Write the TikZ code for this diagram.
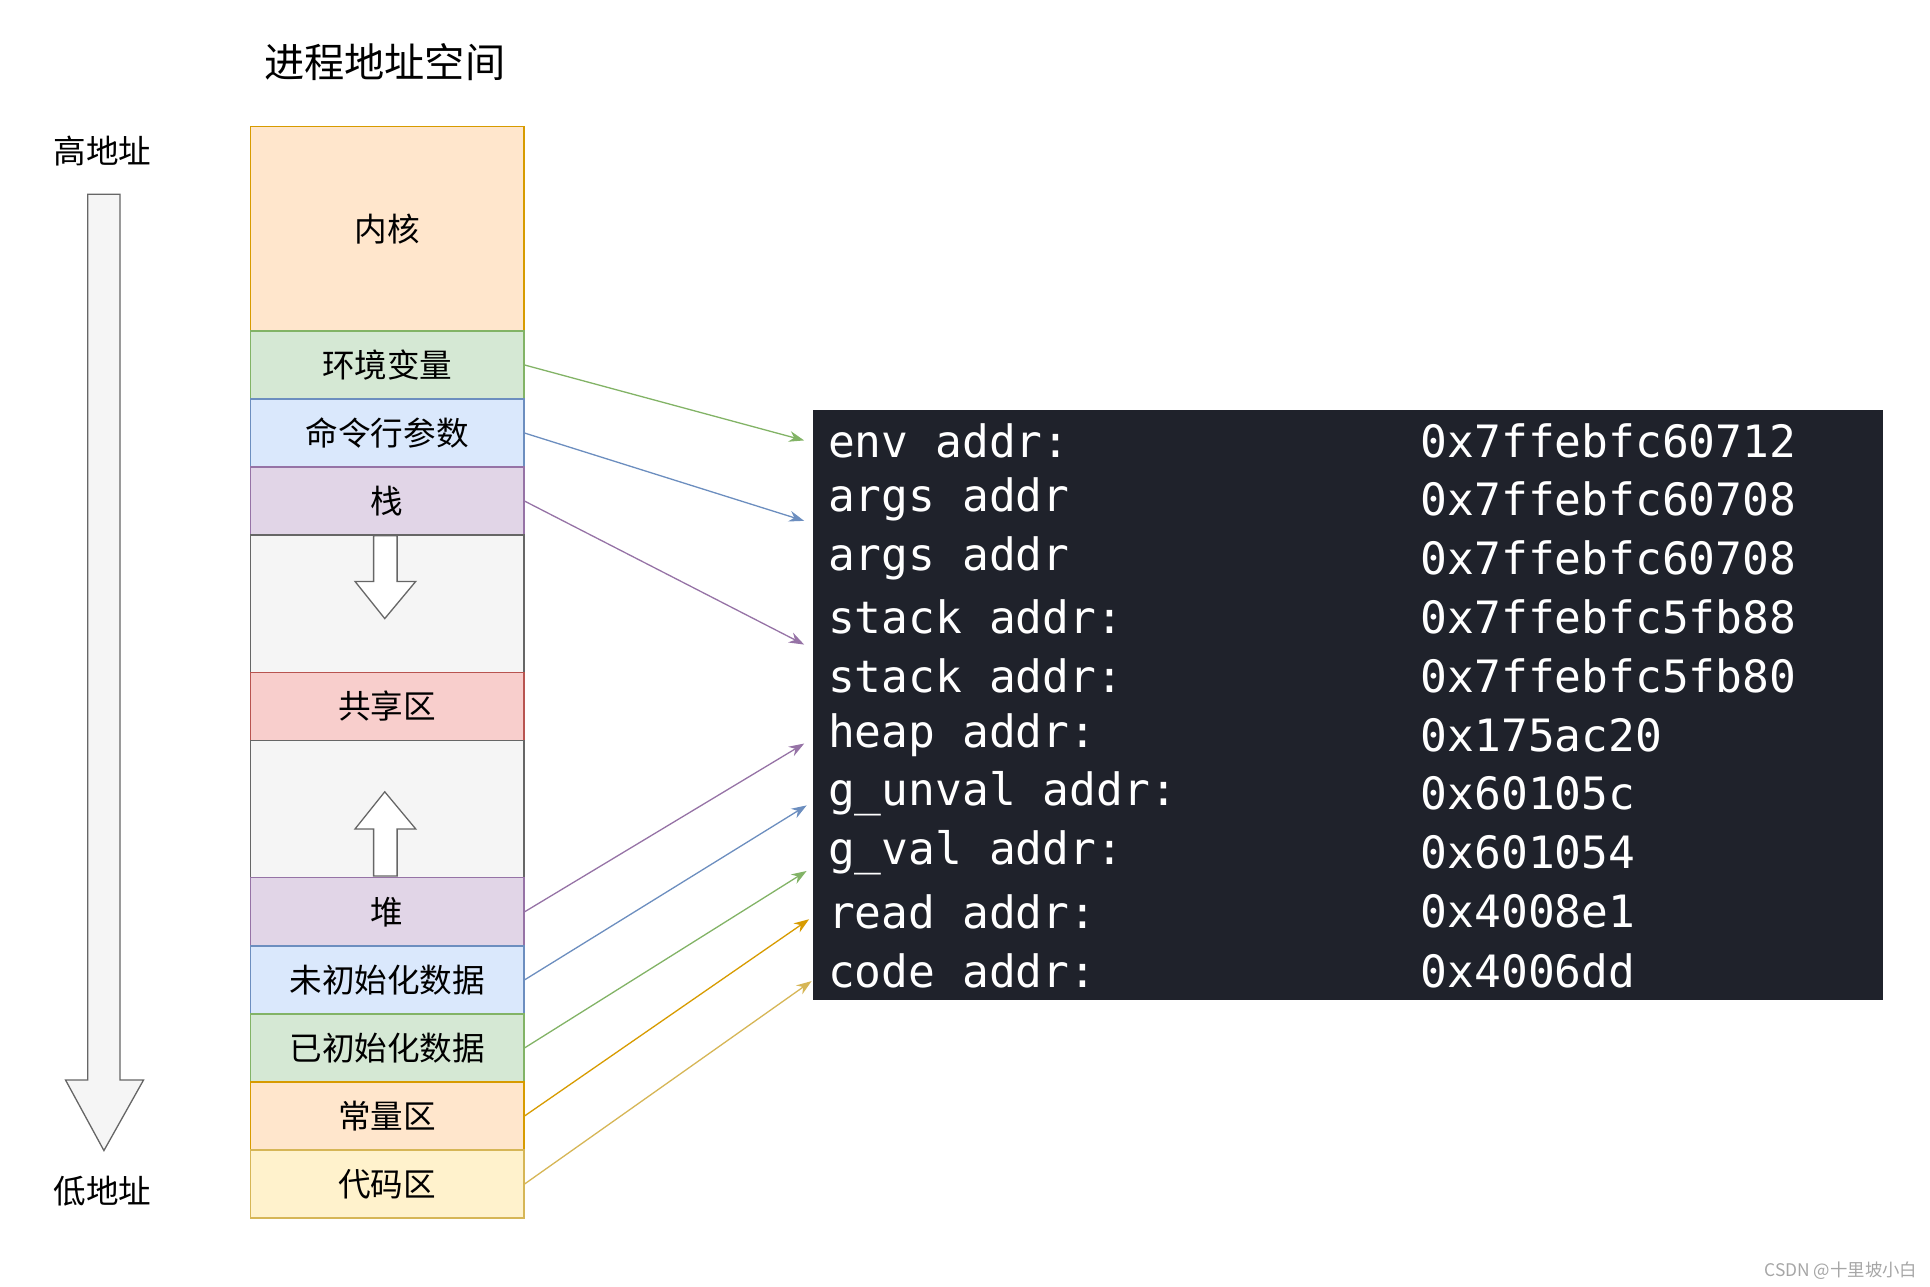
\documentclass[tikz,border=0pt]{standalone}
\usepackage{fontspec}
\setmainfont{Noto Sans CJK SC}
\newfontfamily\codefont{DejaVu Sans Mono}
\usetikzlibrary{positioning,arrows.meta}
\definecolor{orfill}{HTML}{FFE6CC}\definecolor{ordraw}{HTML}{D79B00}
\definecolor{grfill}{HTML}{D5E8D4}\definecolor{grdraw}{HTML}{82B366}
\definecolor{blfill}{HTML}{DAE8FC}\definecolor{bldraw}{HTML}{6C8EBF}
\definecolor{pufill}{HTML}{E1D5E7}\definecolor{pudraw}{HTML}{9673A6}
\definecolor{refill}{HTML}{F8CECC}\definecolor{redraw}{HTML}{B85450}
\definecolor{yefill}{HTML}{FFF2CC}\definecolor{yedraw}{HTML}{D6B656}
\definecolor{gyfill}{HTML}{F5F5F5}\definecolor{gydraw}{HTML}{666666}
\definecolor{term}{HTML}{1F222B}
\tikzset{
  seg/.style={draw, anchor=north west, minimum width=4.42cm, minimum height=1.1cm,
              inner sep=0pt, line width=0.6pt, font=\fontsize{15}{18}\selectfont},
  link/.style={-{Stealth[length=7pt,width=5pt]}, line width=0.6pt},
  code/.style={anchor=west, text=white, inner sep=0pt, font=\codefont\fontsize{20.5}{24}\selectfont}
}
\begin{document}
\begin{tikzpicture}[x=0.02cm, y=-0.02cm]
    \useasboundingbox (0,0) rectangle (1560,1040);

    \node[font=\fontsize{18.5}{22}\selectfont] (title) at (311,50) {进程地址空间};
    \node[font=\fontsize{15}{18}\selectfont] (high) at (83,122) {高地址};
    \node[font=\fontsize{15}{18}\selectfont] (low) at (83,963) {低地址};
    \draw[gydraw, fill=gyfill, line width=0.6pt] (71,157) -- (97,157) -- (97,873) -- (116,873)
        -- (84,930) -- (53,873) -- (71,873) -- cycle;

    % memory layout
    \node[seg, fill=orfill, draw=ordraw, minimum height=3.3cm] (kernel) at (202,102) {内核};
    \node[seg, fill=grfill, draw=grdraw] (env) at (202,267) {环境变量};
    \node[seg, fill=blfill, draw=bldraw] (args) at (202,322) {命令行参数};
    \node[seg, fill=pufill, draw=pudraw] (stack) at (202,377) {栈};
    \node[seg, fill=gyfill, draw=gydraw, minimum height=2.22cm] (gap1) at (202,432) {};
    \node[seg, fill=refill, draw=redraw] (shared) at (202,543) {共享区};
    \node[seg, fill=gyfill, draw=gydraw, minimum height=2.22cm] (gap2) at (202,598) {};
    \node[seg, fill=pufill, draw=pudraw] (heap) at (202,709) {堆};
    \node[seg, fill=blfill, draw=bldraw] (bss) at (202,764) {未初始化数据};
    \node[seg, fill=grfill, draw=grdraw] (data) at (202,819) {已初始化数据};
    \node[seg, fill=orfill, draw=ordraw] (rodata) at (202,874) {常量区};
    \node[seg, fill=yefill, draw=yedraw] (text) at (202,929) {代码区};

    \draw[gydraw, fill=white, line width=0.6pt] (302,433) -- (321,433) -- (321,470) -- (336,470)
        -- (311,500) -- (287,470) -- (302,470) -- cycle;
    \draw[gydraw, fill=white, line width=0.6pt] (302,708) -- (321,708) -- (321,670) -- (336,670)
        -- (311,640) -- (287,670) -- (302,670) -- cycle;

    % terminal output
    \node[fill=term, anchor=north west, minimum width=17.3cm, minimum height=9.54cm, inner sep=0pt] (term) at (657,331) {};
    \foreach \lbl/\val [count=\i from 0] in {env addr:/0x7ffebfc60712, args addr/0x7ffebfc60708,
        args addr/0x7ffebfc60708, stack addr:/0x7ffebfc5fb88, stack addr:/0x7ffebfc5fb80,
        heap addr:/0x175ac20, g\_unval addr:/0x60105c, g\_val addr:/0x601054,
        read addr:/0x4008e1, code addr:/0x4006dd}{
      \node[code] (lbl\i) at (669,356+47.6*\i) {\lbl};
      \node[code] (val\i) at (1148,356+47.6*\i) {\val};
    }

    % connectors
    \coordinate (e1) at (650,356);
    \coordinate (e2) at (650,421);
    \coordinate (e3) at (650,521);
    \coordinate (e4) at (650,601);
    \coordinate (e5) at (652,651);
    \coordinate (e6) at (652,704);
    \coordinate (e7) at (654,743);
    \coordinate (e8) at (656,793);
    \draw[link, grdraw] (env.east) -- (e1);
    \draw[link, bldraw] (args.east) -- (e2);
    \draw[link, pudraw] (stack.east) -- (e3);
    \draw[link, pudraw] (heap.east) -- (e4);
    \draw[link, bldraw] (bss.east) -- (e5);
    \draw[link, grdraw] (data.east) -- (e6);
    \draw[link, ordraw] (rodata.east) -- (e7);
    \draw[link, yedraw] (text.east) -- (e8);

    \node[text=gray!70, font=\fontsize{8}{10}\selectfont] (mark) at (1488,1027) {CSDN @十里坡小白};
\end{tikzpicture}
\end{document}
